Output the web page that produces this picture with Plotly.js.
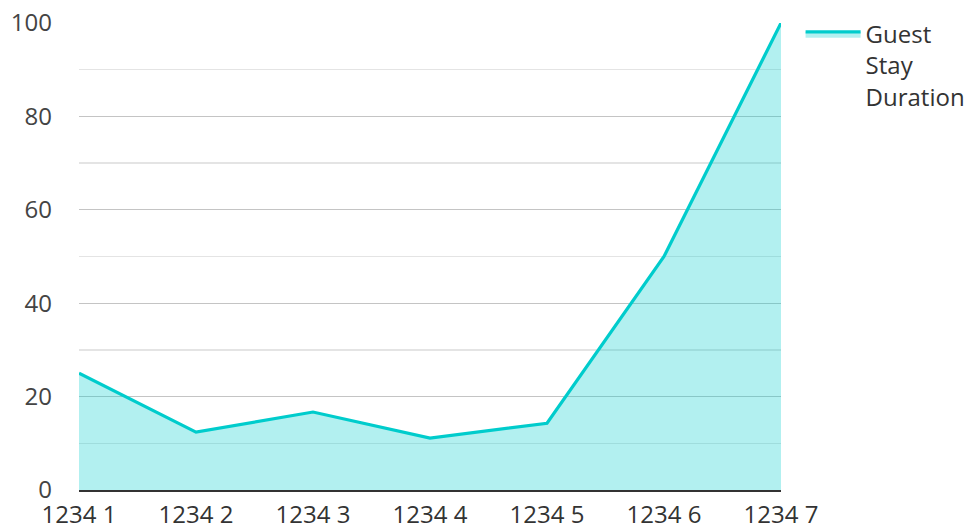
<!DOCTYPE html>
<html>
<head>
<meta charset="utf-8">
<script src="https://cdn.plot.ly/plotly-3.0.1.min.js"></script>
<style>html,body{margin:0;padding:0;background:#fff;}#chart{width:971px;height:531px;}</style>
</head>
<body>
<div id="chart"></div>
<script>
const categories = ["1234 1", "1234 2", "1234 3", "1234 4", "1234 5", "1234 6", "1234 7"];
const values = [25, 12.4, 16.7, 11.1, 14.3, 50, 100];
const seriesName = "Guest<br>Stay<br>Duration";
const yTicks = [0, 20, 40, 60, 80, 100];

const trace = {
  x: categories,
  y: values,
  name: seriesName,
  type: "scatter",
  mode: "lines",
  fill: "tozeroy",
  fillcolor: "rgba(0,204,204,0.3)",
  line: {color: "#00cccc", width: 3.2},
  showlegend: true
};

const layout = {
  width: 971, height: 531,
  margin: {l: 79, r: 190, t: 23, b: 41, autoexpand: false},
  paper_bgcolor: "#ffffff",
  plot_bgcolor: "#ffffff",
  font: {family: "Open Sans, sans-serif", size: 24, color: "#444444"},
  showlegend: true,
  legend: {xref: "container", yref: "container", x: 0.8245, y: 0.978,
           xanchor: "left", yanchor: "top", valign: "top",
           font: {size: 24, color: "#333333"}, itemwidth: 55},
  xaxis: {
    type: "category",
    range: [0, categories.length - 1],
    showgrid: false,
    showline: true, linecolor: "#333333", linewidth: 2,
    ticks: "", tickfont: {size: 24, color: "#333333"},
    ticklabelstandoff: 2, automargin: false,
    zeroline: false, fixedrange: true
  },
  yaxis: {
    range: [0, 100],
    tickvals: yTicks,
    ticktext: yTicks.map(String),
    showgrid: true, gridcolor: "#c4c4c4", gridwidth: 1.3,
    minor: {dtick: 10, showgrid: true, gridcolor: "#e4e4e4", gridwidth: 1.3},
    zeroline: false, showline: false, ticks: "",
    tickfont: {size: 24, color: "#444444"},
    ticklabelstandoff: 26, automargin: false,
    fixedrange: true
  }
};

Plotly.newPlot("chart", [trace], layout, {displayModeBar: false, staticPlot: true});
</script>
</body>
</html>
